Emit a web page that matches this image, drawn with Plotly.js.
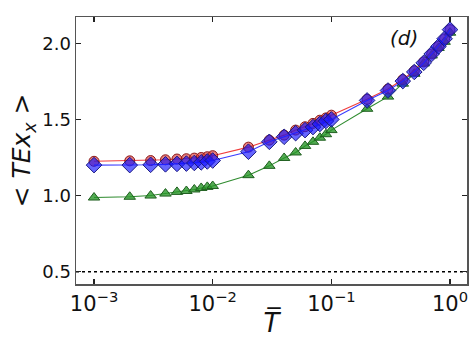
<!DOCTYPE html>
<html>
<head>
<meta charset="utf-8">
<script src="https://cdn.plot.ly/plotly-3.0.1.min.js"></script>
<style>html,body{margin:0;padding:0;background:#fff;}#plot{width:474px;height:338px;}</style>
</head>
<body>
<div id="plot"></div>
<script>
const T = [0.001,0.002,0.003,0.004,0.005,0.006,0.007,0.008,0.009,0.01,
           0.02,0.03,0.04,0.05,0.06,0.07,0.08,0.09,0.1,
           0.2,0.3,0.4,0.5,0.6,0.7,0.8,0.9,1.0];
const redVals = [1.225,1.228,1.23,1.235,1.24,1.242,1.246,1.25,1.255,1.262,
                 1.318,1.364,1.397,1.43,1.452,1.474,1.495,1.51,1.528,
                 1.632,1.70,1.762,1.82,1.878,1.93,1.98,2.03,2.09];
const blueVals = [1.20,1.20,1.202,1.205,1.208,1.21,1.214,1.218,1.224,1.23,
                  1.288,1.353,1.386,1.41,1.43,1.45,1.47,1.49,1.50,
                  1.625,1.69,1.752,1.812,1.872,1.93,1.98,2.03,2.09];
const greenVals = [0.987,0.992,1.0,1.013,1.024,1.03,1.04,1.05,1.057,1.063,
                   1.134,1.195,1.247,1.283,1.326,1.353,1.38,1.403,1.43,
                   1.57,1.65,1.735,1.80,1.868,1.92,1.97,2.01,2.07];
const refLevel = 0.5;
const xTickVals = [0.001, 0.01, 0.1, 1];
const xTickText = ['10<sup>\u22123</sup>', '10<sup>\u22122</sup>', '10<sup>\u22121</sup>', '10<sup>0</sup>'];
const yTickVals = [0.5, 1.0, 1.5, 2.0];
const yTickText = ['0.5', '1.0', '1.5', '2.0'];
const xRangeLog = [-3.152, 0.143];

const traces = [
  {x: xRangeLog.map(v => Math.pow(10, v)), y: [refLevel, refLevel], mode: 'lines',
   line: {color: '#000', width: 1.5, dash: 'dot'}, hoverinfo: 'skip'},
  {x: T, y: greenVals, mode: 'lines+markers',
   line: {color: '#2e8b2e', width: 1.1},
   marker: {symbol: 'triangle-up', size: 10, color: 'rgba(40,150,40,0.8)', line: {color: '#1f5f1f', width: 1}}},
  {x: T, y: redVals, mode: 'lines+markers',
   line: {color: '#f03c3c', width: 1.1},
   marker: {symbol: 'circle', size: 10, color: 'rgba(215,40,40,0.6)', line: {color: '#8b1a1a', width: 1}}},
  {x: T, y: blueVals, mode: 'lines+markers',
   line: {color: '#3a3aff', width: 1.1},
   marker: {symbol: 'diamond', size: 12, color: 'rgba(20,20,255,0.65)', line: {color: '#1a1a80', width: 1}}}
];

const axisCommon = {
  showgrid: false, zeroline: false, showline: true, mirror: 'ticks',
  linecolor: '#555', linewidth: 1.5, ticks: 'inside', ticklen: 5, tickwidth: 1.5, tickcolor: '#222',
  tickfont: {family: 'DejaVu Sans', size: 18, color: '#111'}
};

const layout = {
  width: 474, height: 338,
  margin: {l: 76, r: 7, t: 17, b: 54},
  paper_bgcolor: '#fff', plot_bgcolor: '#fff',
  showlegend: false,
  font: {family: 'DejaVu Sans', color: '#111'},
  xaxis: Object.assign({}, axisCommon, {
    type: 'log', range: xRangeLog, tickvals: xTickVals, ticktext: xTickText,
    tickfont: {family: 'DejaVu Sans', size: 21, color: '#111'},
    title: {text: '<i>T\u0305</i>', font: {family: 'DejaVu Sans', size: 26, color: '#111'}, standoff: 6}
  }),
  yaxis: Object.assign({}, axisCommon, {
    range: [0.419, 2.173], tickvals: yTickVals, ticktext: yTickText,
    title: {text: '< <i>TEx</i><sub><i>x</i></sub> >', font: {family: 'DejaVu Sans', size: 25, color: '#111'}, standoff: 4}
  }),
  annotations: [{
    text: '<i>(d)</i>', xref: 'x', yref: 'y', x: -0.388, y: 2.035,
    showarrow: false, font: {family: 'DejaVu Sans', size: 20, color: '#111'}
  }]
};

Plotly.newPlot('plot', traces, layout, {displayModeBar: false, staticPlot: true});
</script>
</body>
</html>
